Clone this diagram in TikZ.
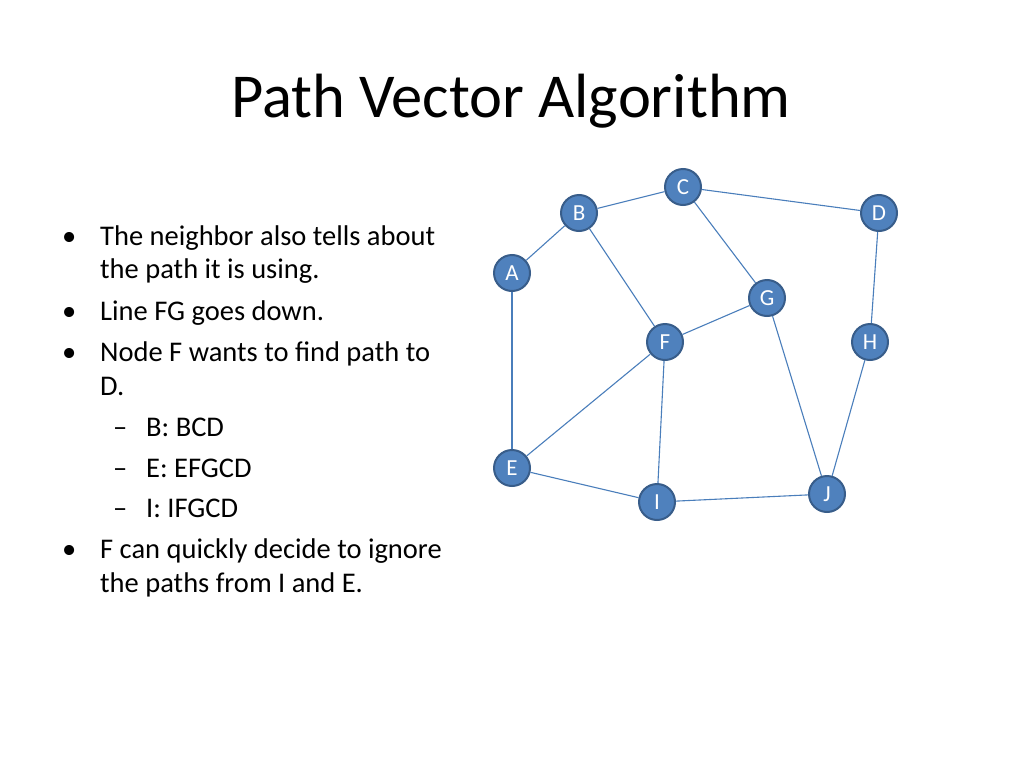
\documentclass[tikz,border=0pt]{standalone}
\usepackage{fontspec}
\setmainfont{Carlito}
\usetikzlibrary{positioning}
\definecolor{nodeblue}{RGB}{79,129,189}
\definecolor{nodeedge}{RGB}{56,93,138}
\definecolor{linkblue}{RGB}{74,126,187}
\tikzset{every picture/.style={x=1pt,y=-1pt}}
\tikzset{router/.style={circle,fill=nodeblue,draw=nodeedge,line width=2pt,
    minimum size=36pt,inner sep=0pt,text=white,font=\fontsize{23}{27}\selectfont}}
\tikzset{link/.style={draw=linkblue,line width=1.1pt}}
\tikzset{txt/.style={anchor=base west,inner sep=0pt,font=\fontsize{28.5}{34}\selectfont}}

\begin{document}
\begin{tikzpicture}
      \useasboundingbox (0,0) rectangle (1024,768);
      \node[anchor=base,inner sep=0pt,font=\fontsize{62.5}{75}\selectfont] (title) at (511,117) {Path Vector Algorithm};
      % bullets
      \node[txt] (d1) at (62,245) {•};
      \node[txt] (l1) at (100,245) {The neighbor also tells about};
      \node[txt] (l2) at (100,278) {the path it is using.};
      \node[txt] (d2) at (62,320) {•};
      \node[txt] (l3) at (100,320) {Line FG goes down.};
      \node[txt] (d3) at (62,361) {•};
      \node[txt] (l4) at (100,361) {Node F wants to find path to};
      \node[txt] (l5) at (100,395) {D.};
      \node[txt] (s1) at (113,436) {–};
      \node[txt] (l6) at (146,436) {B: BCD};
      \node[txt] (s2) at (113,477) {–};
      \node[txt] (l7) at (146,477) {E: EFGCD};
      \node[txt] (s3) at (113,517) {–};
      \node[txt] (l8) at (146,517) {I: IFGCD};
      \node[txt] (d4) at (62,558) {•};
      \node[txt] (l9) at (100,558) {F can quickly decide to ignore};
      \node[txt] (l10) at (100,592) {the paths from I and E.};
      % network
      \node[router] (A) at (512,273) {A};
      \node[router] (B) at (579,213) {B};
      \node[router] (C) at (683,187) {C};
      \node[router] (D) at (879,213) {D};
      \node[router] (G) at (767,298) {G};
      \node[router] (F) at (665,342) {F};
      \node[router] (H) at (870,342) {H};
      \node[router] (E) at (512,468) {E};
      \node[router] (J) at (827,494) {J};
      \node[router] (I) at (657,502) {I};
      \draw[link] (A) -- (B);
      \draw[link] (B) -- (C);
      \draw[link] (C) -- (D);
      \draw[link] (C) -- (G);
      \draw[link] (B) -- (F);
      \draw[link] (F) -- (G);
      \draw[link] (D) -- (H);
      \draw[link] (A) -- (E);
      \draw[link] (E) -- (F);
      \draw[link] (F) -- (I);
      \draw[link] (E) -- (I);
      \draw[link] (I) -- (J);
      \draw[link] (G) -- (J);
      \draw[link] (H) -- (J);
    \end{tikzpicture}
\end{document}
